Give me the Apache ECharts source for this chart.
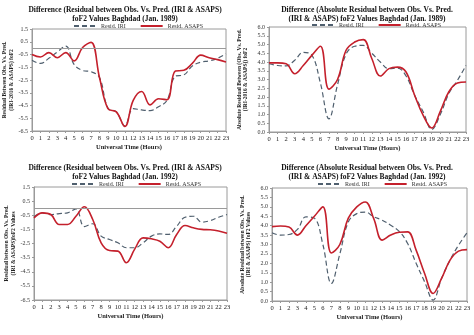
<!DOCTYPE html>
<html><head><meta charset="utf-8">
<script src="https://cdn.jsdelivr.net/npm/echarts@6/dist/echarts.min.js"></script>
<style>html,body{margin:0;padding:0;background:#fff}#c{width:474px;height:335px}</style>
</head><body><div id="c"></div>
<script>
const hours = ['0','1','2','3','4','5','6','7','8','9','10','11','12','13','14','15','16','17','18','19','20','21','22','23'];
// Jan 1989 residual
const iri89 = [-0.95,-1.2,-0.8,-0.3,0.15,-1.3,-1.75,-1.85,-2.3,-4.7,-5.0,-6.1,-4.75,-4.85,-4.9,-4.6,-4.1,-2.2,-2.1,-1.4,-1.1,-1.0,-0.8,-0.45];
const asaps89 = [-0.5,-0.7,-0.35,-0.75,-0.35,-1.0,0.05,0.45,-2.3,-4.75,-5.0,-6.15,-4.1,-3.4,-4.45,-3.97,-4.05,-1.8,-1.74,-1.2,-0.55,-0.75,-0.9,-1.08];
// Jan 1989 absolute residual
const absIri89 = [3.9,3.8,3.78,4.1,4.55,4.4,2.8,0.75,2.7,4.45,4.9,4.95,4.5,4.0,3.62,3.65,3.2,2.1,1.15,0.15,1.0,2.2,2.95,3.8];
const absAsaps89 = [3.95,3.95,3.9,3.33,3.8,4.38,4.9,2.45,3.0,4.67,5.14,5.28,4.2,3.2,3.62,3.71,3.43,2.1,0.95,0.23,1.18,2.3,2.8,2.86];
// Jan 1992 residual
const iri92 = [-0.6,-0.33,-0.45,-0.38,-0.33,-0.05,-1.3,-1.1,-1.98,-2.22,-2.45,-2.8,-2.8,-2.45,-1.98,-1.82,-1.86,-1.28,-0.64,-0.57,-0.99,-0.88,-0.64,-0.45];
const asaps92 = [-0.7,-0.33,-0.45,-1.15,-1.15,-0.57,0.1,-0.8,-2.45,-3.0,-3.04,-3.86,-2.9,-2.1,-2.17,-2.34,-2.8,-1.86,-1.23,-1.39,-1.5,-1.53,-1.62,-1.78];
// Jan 1992 absolute residual
const absIri92 = [3.62,3.5,3.53,3.8,4.47,4.4,3.0,0.93,2.5,4.2,4.64,4.72,4.47,4.29,4.02,3.7,3.05,2.0,1.02,0.05,1.2,2.17,2.96,3.62];
const absAsaps92 = [3.95,3.98,3.93,3.5,4.0,4.5,5.0,2.55,3.0,4.4,5.0,5.26,4.37,3.23,3.5,3.65,3.67,2.7,1.46,0.4,1.2,2.17,2.65,2.73];

const titles = [
  'Difference (Residual between Obs. Vs. Pred. (IRI & ASAPS)\nfoF2 Values Baghdad (Jan. 1989)',
  'Difference (Absolute Residual between Obs. Vs. Pred.\n(IRI & ASAPS) foF2 Values Baghdad (Jan. 1989)',
  'Difference (Residual between Obs. Vs. Pred. (IRI & ASAPS)\nfoF2 Values Baghdad (Jan. 1992)',
  'Difference (Absolute Residual between Obs. Vs. Pred.\n(IRI & ASAPS) foF2 Values Baghdad (Jan. 1992)'
];
const yNames = [
  'Residual Between Obs. Vs. Pred.\n(IRI-2016 & ASAPS) foF2',
  'Absolute Residual Between (Obs. Vs. Pred.\n(IRI-2016 & ASAPS)) foF2',
  'Residual between Obs. Vs. Pred.\n(IRI & ASAPS)foF2 Values',
  'Absolute Residual between Obs. Vs. Pred.\n(IRI & ASAPS) foF2 Values'
];
const xName = 'Universal Time (Hours)';
const legendNames = ['Resid. IRI','Resid. ASAPS'];

const FONT = 'Liberation Serif';
const grids = [
  {left:32, top:29, width:194, height:102},
  {left:269, top:27, width:197, height:105},
  {left:34, top:187, width:193, height:113},
  {left:272, top:188, width:195, height:113}
];
const titleX = [120, 362, 120, 362];
const titleY = [1, 1, 159, 159];
const legendY = [18, 17, 176, 176];
const legendX = [68, 306, 66, 312];
const yCfg = [
  {min:-6.5, max:1.5, interval:1},
  {min:0, max:6, interval:0.5},
  {min:-6.5, max:1.5, interval:1},
  {min:0, max:6, interval:0.5}
];
const iriSets = [iri89, absIri89, iri92, absIri92];
const asapsSets = [asaps89, absAsaps89, asaps92, absAsaps92];

const RED = '#c4202c', DASH = '#4f5f6e';
const option = {
  animation:false,
  textStyle:{fontFamily:FONT},
  title: titles.map((t,i)=>({text:t, left:titleX[i], top:titleY[i], textAlign:'center',
    textStyle:{fontFamily:FONT, fontSize:7.5, fontWeight:'bold', color:'#111', lineHeight:8.5}})),
  legend: legendX.map((x,i)=>({data:legendNames, left:x, top:legendY[i], itemWidth:22, itemHeight:6, itemGap:14,
    itemStyle:{opacity:0},
    textStyle:{fontFamily:FONT, fontSize:6, color:'#333'}})),
  grid: grids.map(g=>Object.assign({show:true, borderColor:'#9a9a9a', borderWidth:1, containLabel:false}, g)),
  xAxis: grids.map((g,i)=>({type:'category', gridIndex:i, data:hours, boundaryGap:false,
    name:xName, nameLocation:'middle', nameGap:13,
    nameTextStyle:{fontFamily:FONT, fontSize:6.5, fontWeight:'bold', color:'#222'},
    axisLine:{onZero:false, lineStyle:{color:'#9a9a9a'}},
    axisTick:{show:true, length:2, lineStyle:{color:'#9a9a9a'}},
    axisLabel:{fontFamily:FONT, fontSize:6.5, color:'#222', margin:4, interval:0},
    splitLine:{show:false}})),
  yAxis: yCfg.map((c,i)=>({type:'value', gridIndex:i, min:c.min, max:c.max, interval:c.interval,
    name:yNames[i], nameLocation:'middle', nameGap:(i%2? 20:17), nameRotate:90,
    nameTextStyle:{fontFamily:FONT, fontSize:5.5, fontWeight:'bold', color:'#222', lineHeight:6.5},
    axisLine:{show:true, lineStyle:{color:'#9a9a9a'}},
    axisTick:{show:true, length:2, lineStyle:{color:'#9a9a9a'}},
    axisLabel:{fontFamily:FONT, fontSize:6, color:'#333', margin:4, formatter:v=>v.toFixed(1)},
    splitLine:{show:false}})),
  series: []
};
for (let i=0;i<4;i++){
  const zeroLine = (i%2===0) ? {silent:true, symbol:'none', label:{show:false},
     lineStyle:{color:'#9a9a9a', type:'solid', width:1}, data:[{yAxis:0}]} : undefined;
  option.series.push({name:'Resid. IRI', type:'line', xAxisIndex:i, yAxisIndex:i, data:iriSets[i],
    smooth:0.4, symbol:'none', lineStyle:{color:DASH, width:1.2, type:[5,3]}, itemStyle:{color:DASH},
    markLine: zeroLine, z:2});
  option.series.push({name:'Resid. ASAPS', type:'line', xAxisIndex:i, yAxisIndex:i, data:asapsSets[i],
    smooth:0.4, symbol:'none', lineStyle:{color:RED, width:1.6}, itemStyle:{color:RED}, z:3});
}
const chart = echarts.init(document.getElementById('c'), null, {renderer:'canvas'});
chart.setOption(option);
</script></body></html>
